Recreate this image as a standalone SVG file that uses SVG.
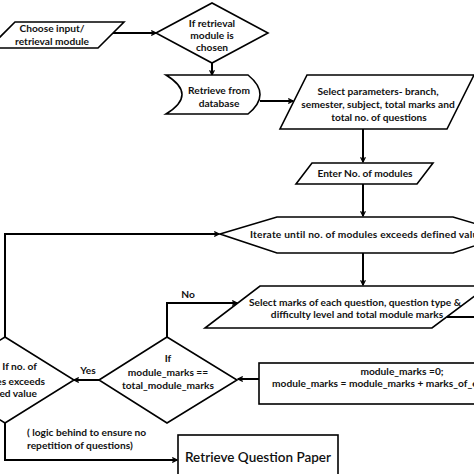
<svg xmlns="http://www.w3.org/2000/svg" width="474" height="474" viewBox="0 0 474 474">
<style>
.s{fill:#fff;stroke:#000;stroke-width:1.6}
.c{fill:none;stroke:#000;stroke-width:2}
text{font-family:Lato,"Liberation Sans",sans-serif;font-weight:bold;font-size:10.2px;fill:#111}
.m{text-anchor:middle}
.e{text-anchor:end}
.big{font-size:13.5px;font-weight:600}
</style>
<defs>
<marker id="a" viewBox="0 0 10 10" refX="9" refY="5" markerWidth="6" markerHeight="6" orient="auto" markerUnits="userSpaceOnUse">
<path d="M1,1 L9,5 L1,9" fill="none" stroke="#000" stroke-width="2"/>
</marker>
</defs>
<rect width="474" height="474" fill="#fff"/>
<g id="connectors">
<line class="c" x1="113" y1="33" x2="156" y2="33" marker-end="url(#a)"/>
<line class="c" x1="212" y1="63" x2="212" y2="75" marker-end="url(#a)"/>
<line class="c" x1="260" y1="101" x2="293" y2="101" marker-end="url(#a)"/>
<line class="c" x1="363" y1="129" x2="363" y2="162" marker-end="url(#a)"/>
<line class="c" x1="363" y1="184" x2="363" y2="216" marker-end="url(#a)"/>
<line class="c" x1="363" y1="253" x2="363" y2="285" marker-end="url(#a)"/>
<polyline class="c" points="167,337 167,303 237,303" marker-end="url(#a)"/>
<line class="c" x1="99" y1="380" x2="74" y2="380" marker-end="url(#a)"/>
<line class="c" x1="259" y1="379" x2="238" y2="379" marker-end="url(#a)"/>
<polyline class="c" points="5,337 5,234 219,234" marker-end="url(#a)"/>
<polyline class="c" points="5,423 5,460 177,460" marker-end="url(#a)"/>
<line class="c" x1="447" y1="317" x2="480" y2="317"/>
</g>
<g id="choose">
<polygon class="s" points="15,22 124,22 98,48 -11,48"/>
<text class="m" x="52" y="32">Choose input/</text>
<text class="m" x="52" y="45">retrieval module</text>
</g>
<g id="if-retrieval">
<polygon class="s" points="156,33 212,3 268,33 212,63"/>
<text class="m" x="212" y="27">If retrieval</text>
<text class="m" x="212" y="39">module is</text>
<text class="m" x="212" y="51">chosen</text>
</g>
<g id="retrieve-db">
<path class="s" d="M166,75 L248,75 Q272,94.5 248,114 L166,114 Q198,94.5 166,75 Z"/>
<text class="m" x="219" y="94">Retrieve from</text>
<text class="m" x="219" y="107">database</text>
</g>
<g id="select-params">
<polygon class="s" points="307,75 474,75 447,129 280,129"/>
<text class="m" x="378" y="95">Select parameters- branch,</text>
<text class="m" x="378" y="108">semester, subject, total marks and</text>
<text class="m" x="379" y="121">total no. of questions</text>
</g>
<g id="enter-modules">
<polygon class="s" points="312,163 433,163 417,184 296,184"/>
<text class="m" x="365" y="177">Enter No. of modules</text>
</g>
<g id="iterate">
<polygon class="s" points="220,234 277,217 453,217 510,234 453,253 277,253"/>
<text x="250" y="238" letter-spacing="0.2">Iterate  until no. of modules exceeds defined value</text>
</g>
<g id="select-marks">
<polygon class="s" points="260,286 488,286 432,328 205,328"/>
<text class="m" x="355" y="306">Select marks of each question, question type &amp;</text>
<text class="m" x="357" y="318">difficulty level and total module marks</text>
</g>
<g id="if-module-marks">
<polygon class="s" points="99,380 167,337 237,380 167,423"/>
<text class="m" x="168" y="362">If</text>
<text class="m" x="168" y="376">module_marks ==</text>
<text class="m" x="168" y="389">total_module_marks</text>
</g>
<g id="module-marks-box">
<rect class="s" x="259" y="363" width="260" height="41"/>
<text class="m" x="402" y="375">module_marks =0;</text>
<text x="272" y="387">module_marks = module_marks + marks_of_each_question;</text>
</g>
<g id="if-exceeds">
<polygon class="s" points="-64,380 5,337 74,380 5,423"/>
<text class="e" x="37" y="370">If no. of</text>
<text class="e" x="45" y="385">modules exceeds</text>
<text class="e" x="37" y="397">defined value</text>
</g>
<g id="labels">
<text class="m" x="188" y="298">No</text>
<text class="m" x="88" y="374">Yes</text>
<text x="27" y="436">( logic behind to ensure no</text>
<text x="27" y="449">repetition of questions)</text>
</g>
<g id="retrieve-paper">
<rect class="s" x="178" y="435" width="160" height="40"/>
<text class="m big" x="258" y="462">Retrieve Question Paper</text>
</g>
</svg>
